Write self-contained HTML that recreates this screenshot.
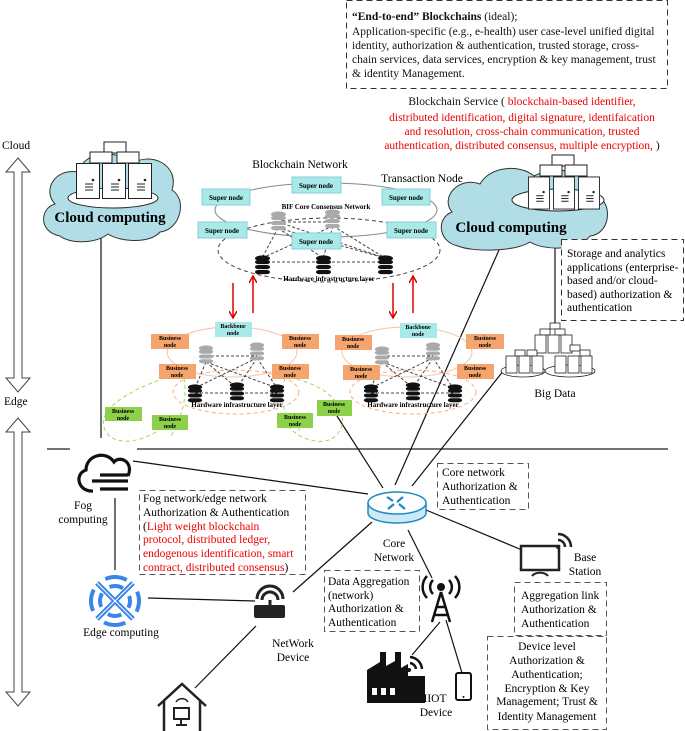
<!DOCTYPE html>
<html><head><meta charset="utf-8"><style>
html,body{margin:0;padding:0;background:#fff}
svg{display:block}
text{font-family:"Liberation Serif",serif}
</style></head><body>
<svg width="685" height="731" viewBox="0 0 685 731" xmlns="http://www.w3.org/2000/svg">
<defs>
<symbol id="tower" viewBox="0 0 24 36" overflow="visible">
<rect x="0.5" y="0.5" width="23" height="35" fill="#fff" stroke="#222" stroke-width="1"/>
<circle cx="17" cy="17" r="1.3" fill="#222"/>
<path d="M9 21h8M9 24h8M9 27h8" stroke="#222" stroke-width="1"/>
</symbol>
<symbol id="dbk" viewBox="0 0 20 24" overflow="visible">
<ellipse cx="10" cy="4" rx="9" ry="3.5" fill="#111"/>
<rect x="1" y="6" width="18" height="5" rx="4" fill="#111"/>
<rect x="1" y="12" width="18" height="5" rx="4" fill="#111"/>
<rect x="1" y="18" width="18" height="5" rx="4" fill="#111"/>
</symbol>
<symbol id="dbg" viewBox="0 0 20 24" overflow="visible">
<ellipse cx="10" cy="4" rx="9" ry="3.5" fill="#aaa"/>
<rect x="1" y="6" width="18" height="5" rx="4" fill="#aaa"/>
<rect x="1" y="12" width="18" height="5" rx="4" fill="#aaa"/>
<rect x="1" y="18" width="18" height="5" rx="4" fill="#aaa"/>
</symbol>
<marker id="ar" markerWidth="8" markerHeight="8" refX="6" refY="4" orient="auto" markerUnits="userSpaceOnUse">
<path d="M0 0L7 4L0 8" fill="none" stroke="#d00" stroke-width="1.5"/>
</marker>
</defs>

<!-- top box -->
<rect x="346.5" y="0.5" width="321" height="88" fill="none" stroke="#333" stroke-dasharray="6,4"/>
<g font-size="11.5" fill="#111">
<text x="352" y="20"><tspan font-weight="bold">“End-to-end” Blockchains</tspan> (ideal);</text>
<text x="352" y="35">Application-specific (e.g., e-health) user case-level unified digital</text>
<text x="352" y="49">identity, authorization &amp; authentication, trusted storage, cross-</text>
<text x="352" y="63">chain services, data services, encryption &amp; key management, trust</text>
<text x="352" y="77">&amp; identity Management.</text>
</g>
<g font-size="11.5" text-anchor="middle">
<text x="522" y="105"><tspan fill="#111">Blockchain Service ( </tspan><tspan fill="#e00"> blockchain-based identifier,</tspan></text>
<text x="522" y="121" fill="#e00">distributed identification, digital signature, identifaication</text>
<text x="522" y="135" fill="#e00">and resolution, cross-chain communication, trusted</text>
<text x="522" y="149"><tspan fill="#e00">authentication, distributed consensus, multiple encryption, </tspan><tspan fill="#111">)</tspan></text>
</g>

<!-- left side arrows -->
<text x="2" y="149" font-size="11.5">Cloud</text>
<text x="4" y="405" font-size="11.5">Edge</text>
<path d="M18 158 L30 172 L22 172 L22 378 L30 378 L18 392 L6 378 L14 378 L14 172 L6 172 Z" fill="#fff" stroke="#444"/>
<path d="M18 418 L30 432 L22 432 L22 692 L30 692 L18 706 L6 692 L14 692 L14 432 L6 432 Z" fill="#fff" stroke="#444"/>
<path d="M47 449H70M137 449H668" stroke="#222" stroke-width="1.2"/>

<!-- connectors -->
<g stroke="#111" stroke-width="1.2" fill="none">
<path d="M101 238V438"/>
<path d="M555 210V325"/>
<path d="M499 250L395 485"/>
<path d="M508 365L412 486"/>
<path d="M337 416L383 488"/>
<path d="M133 461L368 494"/>
<path d="M426 510L522 550"/>
<path d="M408 530L432 578"/>
<path d="M372 522L293 592"/>
<path d="M255 601L148 598"/>
<path d="M115 498V570"/>
<path d="M256 626L195 688"/>
<path d="M440 622L412 655"/>
<path d="M446 620L462 673"/>
</g>

<!-- left cloud -->
<path d="M60 236 C38 232 40 208 55 204 C42 190 55 168 78 172 C85 150 118 148 130 165 C150 150 180 165 172 190 C188 200 180 230 160 232 C150 244 120 242 108 234 C95 244 70 244 60 236 Z" fill="#b0dde6" stroke="#333"/>
<ellipse cx="113" cy="198" rx="45" ry="10" fill="#fff" stroke="#222"/>
<rect x="104" y="142" width="22" height="11" fill="#fff" stroke="#222"/>
<rect x="90" y="152" width="22" height="11" fill="#fff" stroke="#222"/>
<rect x="117" y="152" width="22" height="11" fill="#fff" stroke="#222"/>
<use href="#tower" x="76" y="163" width="24" height="36"/>
<use href="#tower" x="102" y="163" width="24" height="36"/>
<use href="#tower" x="128" y="163" width="24" height="36"/>
<text x="110" y="222" font-size="15" font-weight="bold" text-anchor="middle">Cloud computing</text>

<!-- right cloud -->
<path d="M458 246 C438 242 436 218 452 212 C440 198 458 176 480 184 C490 166 520 164 534 176 C556 164 598 172 596 194 C614 204 610 234 590 236 C578 252 542 250 530 242 C514 252 472 252 458 246 Z" fill="#b0dde6" stroke="#333"/>
<ellipse cx="558" cy="200" rx="46" ry="11" fill="#fff" stroke="#222"/>
<rect x="552" y="155" width="22" height="11" fill="#fff" stroke="#222"/>
<rect x="540" y="165" width="22" height="11" fill="#fff" stroke="#222"/>
<rect x="565" y="165" width="22" height="11" fill="#fff" stroke="#222"/>
<use href="#tower" x="528" y="175" width="22" height="36"/>
<use href="#tower" x="553" y="175" width="22" height="36"/>
<use href="#tower" x="578" y="175" width="22" height="36"/>
<text x="511" y="232" font-size="15" font-weight="bold" text-anchor="middle">Cloud computing</text>

<!-- storage box -->
<rect x="561.5" y="239.5" width="122" height="81" fill="#fff" stroke="#333" stroke-dasharray="6,4"/>
<g font-size="11.5"><text x="567" y="257">Storage and analytics</text><text x="567" y="271">applications (enterprise-</text><text x="567" y="284">based and/or cloud-</text><text x="567" y="298">based) authorization &amp;</text><text x="567" y="311">authentication</text></g>

<!-- big data -->
<g fill="#fff" stroke="#222" stroke-width="0.8">
<ellipse cx="523" cy="371" rx="22" ry="6"/><ellipse cx="570" cy="371" rx="25" ry="6"/>
<rect x="550" y="323" width="10" height="6"/>
<rect x="540" y="329" width="10" height="6"/><rect x="555" y="329" width="10" height="6"/>
<rect x="535" y="335" width="11" height="18"/><rect x="548" y="335" width="11" height="18"/><rect x="561" y="335" width="11" height="18"/>
<rect x="515" y="350" width="10" height="6"/><rect x="527" y="350" width="10" height="6"/><rect x="570" y="345" width="10" height="6"/><rect x="580" y="350" width="10" height="6"/>
<rect x="506" y="356" width="11" height="17"/><rect x="519" y="356" width="11" height="17"/><rect x="532" y="356" width="11" height="17"/>
<rect x="555" y="356" width="11" height="17"/><rect x="568" y="356" width="11" height="17"/><rect x="581" y="356" width="11" height="17"/>
</g>
<text x="555" y="397" font-size="11.5" text-anchor="middle">Big Data</text>

<!-- blockchain network -->
<text x="300" y="168" font-size="11.5" text-anchor="middle">Blockchain Network</text>
<text x="422" y="182" font-size="11.5" text-anchor="middle">Transaction Node</text>
<ellipse cx="326" cy="210" rx="111" ry="27" fill="none" stroke="#888"/>
<text x="326" y="209" font-size="7" font-weight="bold" text-anchor="middle">BIF Core Consensus Network</text>
<ellipse cx="329" cy="250" rx="111" ry="32" fill="none" stroke="#444" stroke-dasharray="4,3"/>
<g stroke="#444" stroke-dasharray="3,2" fill="none">
<path d="M278 228L262 258M278 228L323 258M278 228L385 258M333 226L262 258M333 226L323 258M333 226L385 258M278 222H333M262 262H385M278 222L385 258"/>
</g>
<use href="#dbg" x="270" y="211" width="17" height="20"/>
<use href="#dbg" x="324" y="209" width="17" height="20"/>
<use href="#dbk" x="254" y="255" width="17" height="20"/>
<use href="#dbk" x="315" y="255" width="17" height="20"/>
<use href="#dbk" x="377" y="255" width="17" height="20"/>
<text x="329" y="281" font-size="7" font-weight="bold" text-anchor="middle">Hardware infrastructure  layer</text>
<g fill="#a8eae8" stroke="#8cd">
<rect x="292" y="177" width="49" height="16"/><rect x="202" y="189" width="48" height="16"/><rect x="382" y="189" width="48" height="16"/>
<rect x="198" y="222" width="49" height="16"/><rect x="387" y="222" width="49" height="16"/><rect x="292" y="233" width="49" height="16"/>
</g>
<g font-size="7" font-weight="bold" text-anchor="middle">
<text x="316" y="188">Super node</text><text x="226" y="200">Super node</text><text x="406" y="200">Super node</text>
<text x="222" y="233">Super node</text><text x="411" y="233">Super node</text><text x="316" y="244">Super node</text>
</g>

<!-- red arrows -->
<g stroke="#d00" stroke-width="1.5" fill="none">
<path d="M233 283V317" marker-end="url(#ar)"/><path d="M253 313V277" marker-end="url(#ar)"/>
<path d="M393 283V317" marker-end="url(#ar)"/><path d="M413 313V277" marker-end="url(#ar)"/>
</g>

<!-- clusters -->
<g fill="none">
<ellipse cx="232" cy="352" rx="65" ry="25" stroke="#f5c3a0"/>
<ellipse cx="236" cy="392" rx="63" ry="22" stroke="#f5b080" stroke-dasharray="4,3"/>
<ellipse cx="407" cy="352" rx="65" ry="25" stroke="#f5c3a0"/>
<ellipse cx="413" cy="392" rx="63" ry="22" stroke="#f5b080" stroke-dasharray="4,3"/>
<g stroke="#9d5" stroke-dasharray="4,3">
<path d="M165 378 C130 390 95 410 105 430 C115 450 150 440 165 425"/>
<path d="M184 378 C188 400 180 420 170 438"/>
<path d="M290 378 C330 385 350 410 340 430 C330 450 300 440 290 428"/>
<path d="M285 378 C278 400 285 420 300 430"/>
</g>
</g>
<g stroke="#444" stroke-dasharray="3,2" fill="none">
<path d="M206 362L195 388M206 362L237 388M206 362L277 388M257 358L195 388M257 358L237 388M257 358L277 388M206 356H257M195 393H277"/>
<path d="M382 362L371 388M382 362L413 388M382 362L453 388M433 358L371 388M433 358L413 388M433 358L453 388M382 356H433M371 393H453"/>
</g>
<use href="#dbg" x="198" y="345" width="16" height="19"/><use href="#dbg" x="249" y="342" width="16" height="19"/>
<use href="#dbk" x="187" y="384" width="16" height="19"/><use href="#dbk" x="229" y="382" width="16" height="19"/><use href="#dbk" x="269" y="384" width="16" height="19"/>
<use href="#dbg" x="374" y="346" width="16" height="19"/><use href="#dbg" x="425" y="342" width="16" height="19"/>
<use href="#dbk" x="363" y="384" width="16" height="19"/><use href="#dbk" x="405" y="382" width="16" height="19"/><use href="#dbk" x="447" y="384" width="16" height="19"/>
<text x="237" y="407" font-size="7" font-weight="bold" text-anchor="middle">Hardware infrastructure  layer</text>
<text x="413" y="407" font-size="7" font-weight="bold" text-anchor="middle">Hardware infrastructure  layer</text>
<g fill="#a8eae8"><rect x="215" y="322" width="37" height="15"/><rect x="400" y="323" width="37" height="15"/></g>
<g fill="#f4a46c">
<rect x="151" y="334" width="38" height="15"/><rect x="282" y="334" width="37" height="15"/><rect x="159" y="364" width="37" height="15"/><rect x="272" y="364" width="37" height="15"/>
<rect x="335" y="335" width="37" height="15"/><rect x="466" y="334" width="38" height="15"/><rect x="343" y="365" width="37" height="15"/><rect x="457" y="364" width="37" height="15"/>
</g>
<g fill="#8dd04a"><rect x="105" y="407" width="37" height="14"/><rect x="152" y="415" width="36" height="15"/><rect x="277" y="413" width="36" height="15"/><rect x="317" y="400" width="35" height="16"/></g>
<g font-size="6" font-weight="bold" text-anchor="middle">
<text x="233" y="328">Backbone</text><text x="233" y="335">node</text>
<text x="418" y="329">Backbone</text><text x="418" y="336">node</text>
<text x="170" y="340">Business</text><text x="170" y="347">node</text>
<text x="300" y="340">Business</text><text x="300" y="347">node</text>
<text x="177" y="370">Business</text><text x="177" y="377">node</text>
<text x="290" y="370">Business</text><text x="290" y="377">node</text>
<text x="353" y="341">Business</text><text x="353" y="348">node</text>
<text x="485" y="340">Business</text><text x="485" y="347">node</text>
<text x="361" y="371">Business</text><text x="361" y="378">node</text>
<text x="475" y="370">Business</text><text x="475" y="377">node</text>
<text x="123" y="413">Business</text><text x="123" y="420">node</text>
<text x="170" y="421">Business</text><text x="170" y="428">node</text>
<text x="295" y="419">Business</text><text x="295" y="426">node</text>
<text x="334" y="406">Business</text><text x="334" y="413">node</text>
</g>

<!-- fog icon -->
<path d="M93 491 C78 492 74 474 86 470 C86 455 106 450 114 462 C120 455 134 462 128 476" fill="none" stroke="#111" stroke-width="3.2"/>
<path d="M100 475H128M92 481H128M100 489H128" stroke="#111" stroke-width="3.2"/>
<text x="83" y="509" font-size="11.5" text-anchor="middle">Fog</text>
<text x="83" y="523" font-size="11.5" text-anchor="middle">computing</text>

<!-- fog box -->
<rect x="139.5" y="490.5" width="166" height="84" fill="#fff" stroke="#555" stroke-dasharray="6,4"/>
<g font-size="11.5">
<text x="143" y="502">Fog network/edge network</text>
<text x="143" y="516">Authorization &amp; Authentication</text>
<text x="143" y="530"><tspan>(</tspan><tspan fill="#e00">Light weight blockchain</tspan></text>
<text x="143" y="543" fill="#e00">protocol, distributed ledger,</text>
<text x="143" y="557" fill="#e00">endogenous identification, smart</text>
<text x="143" y="571"><tspan fill="#e00">contract, distributed consensus</tspan>)</text>
</g>

<!-- edge computing -->
<g fill="none" stroke="#3a85e8" stroke-width="4">
<circle cx="115" cy="601" r="24" stroke-dasharray="22,16" stroke-dashoffset="11"/>
<circle cx="115" cy="601" r="15" stroke-dasharray="14,10" stroke-dashoffset="7"/>
<path d="M97 583L133 619M133 583L97 619" stroke-width="5"/>
</g>
<path d="M97 583L133 619M133 583L97 619" stroke="#fff" stroke-width="1"/>
<text x="121" y="636" font-size="11.5" text-anchor="middle">Edge computing</text>

<!-- core network -->
<path d="M368 503V513 A29 10 0 0 0 426 513V503" fill="#cde9f4" stroke="#1d8ac5" stroke-width="1.5"/>
<ellipse cx="397" cy="503" rx="29" ry="11" fill="#fff" stroke="#1d8ac5" stroke-width="1.5"/>
<g stroke="#1d8ac5" stroke-width="2.2" fill="none">
<path d="M387 497L393 501M403 497L397 502M388 509L394 504M405 509L399 504"/>
</g>
<text x="394" y="547" font-size="11.5" text-anchor="middle">Core</text>
<text x="394" y="561" font-size="11.5" text-anchor="middle">Network</text>

<!-- core box -->
<rect x="437.5" y="463.5" width="91" height="46" fill="#fff" stroke="#555" stroke-dasharray="6,4"/>
<g font-size="11.5"><text x="442" y="476">Core network</text><text x="442" y="490">Authorization &amp;</text><text x="442" y="504">Authentication</text></g>

<!-- network device -->
<rect x="254" y="605" width="31" height="13" rx="2" fill="#222"/>
<path d="M270 605V600" stroke="#222" stroke-width="3"/>
<path d="M262 600 A8 8 0 0 1 278 600M257 599 A13 13 0 0 1 283 599" fill="none" stroke="#222" stroke-width="3"/>
<text x="293" y="647" font-size="11.5" text-anchor="middle">NetWork</text>
<text x="293" y="661" font-size="11.5" text-anchor="middle">Device</text>

<!-- data aggregation box -->
<rect x="324.5" y="570.5" width="95" height="61" fill="#fff" stroke="#555" stroke-dasharray="6,4"/>
<g font-size="11.5"><text x="328" y="585">Data Aggregation</text><text x="328" y="599">(network)</text><text x="328" y="612">Authorization &amp;</text><text x="328" y="626">Authentication</text></g>

<!-- antenna -->
<circle cx="441" cy="587" r="4" fill="#111"/>
<g fill="none" stroke="#111" stroke-width="2.5">
<path d="M433 580 A10 10 0 0 0 433 594M449 580 A10 10 0 0 1 449 594M427 576 A16 16 0 0 0 427 598M455 576 A16 16 0 0 1 455 598"/>
<path d="M441 592L432 622M441 592L450 622M436 607H446M434 615H448"/>
</g>

<!-- factory -->
<path d="M367 703V670L380 662V652H386V666L395 661V652H401V668L408 664V676H425V703Z" fill="#111"/>
<g fill="#fff"><rect x="372" y="688" width="5" height="7"/><rect x="381" y="688" width="5" height="7"/><rect x="390" y="688" width="5" height="7"/></g>
<circle cx="409" cy="670" r="2" fill="#111"/>
<path d="M410 663 A7 7 0 0 1 416 669M410 657 A13 13 0 0 1 422 669" fill="none" stroke="#111" stroke-width="2.5"/>
<!-- phone -->
<rect x="456" y="673" width="15" height="27" rx="2" fill="none" stroke="#111" stroke-width="2"/>
<circle cx="463.5" cy="697" r="1" fill="#111"/>
<text x="435" y="702" font-size="11.5" text-anchor="middle">IIOT</text>
<text x="436" y="716" font-size="11.5" text-anchor="middle">Device</text>

<!-- house -->
<path d="M158 706L182 684L206 706" fill="none" stroke="#222" stroke-width="2.5"/>
<path d="M164 700V731M200 700V731" stroke="#222" stroke-width="2.5"/>
<rect x="174" y="708" width="15" height="11" fill="none" stroke="#222" stroke-width="2"/>
<path d="M181 719V724M176 725H187" stroke="#222" stroke-width="2"/>
<path d="M176 702 A7 7 0 0 1 188 702" fill="none" stroke="#222" stroke-width="1.5"/>

<!-- base station -->
<rect x="521" y="546" width="38" height="24" fill="none" stroke="#222" stroke-width="2.5"/>
<path d="M532 576 A9 6 0 0 1 548 576" fill="none" stroke="#222" stroke-width="2"/>
<circle cx="558" cy="547" r="2" fill="#222"/>
<path d="M558 540 A7 7 0 0 1 565 547M558 534 A13 13 0 0 1 571 547" fill="none" stroke="#222" stroke-width="2.5"/>
<text x="585" y="561" font-size="11.5" text-anchor="middle">Base</text>
<text x="585" y="575" font-size="11.5" text-anchor="middle">Station</text>

<!-- aggregation link box -->
<rect x="514.5" y="582.5" width="92" height="53" fill="#fff" stroke="#555" stroke-dasharray="6,4"/>
<g font-size="11.5"><text x="521" y="599">Aggregation link</text><text x="521" y="613">Authorization &amp;</text><text x="521" y="627">Authentication</text></g>

<!-- device level box -->
<rect x="487.5" y="636.5" width="119" height="93" fill="#fff" stroke="#555" stroke-dasharray="6,4"/>
<g font-size="11.5" text-anchor="middle">
<text x="547" y="650">Device level</text><text x="547" y="664">Authorization &amp;</text><text x="547" y="678">Authentication;</text>
<text x="547" y="692">Encryption &amp; Key</text><text x="547" y="705">Management; Trust &amp;</text><text x="547" y="720">Identity Management</text>
</g>
</svg>
</body></html>
